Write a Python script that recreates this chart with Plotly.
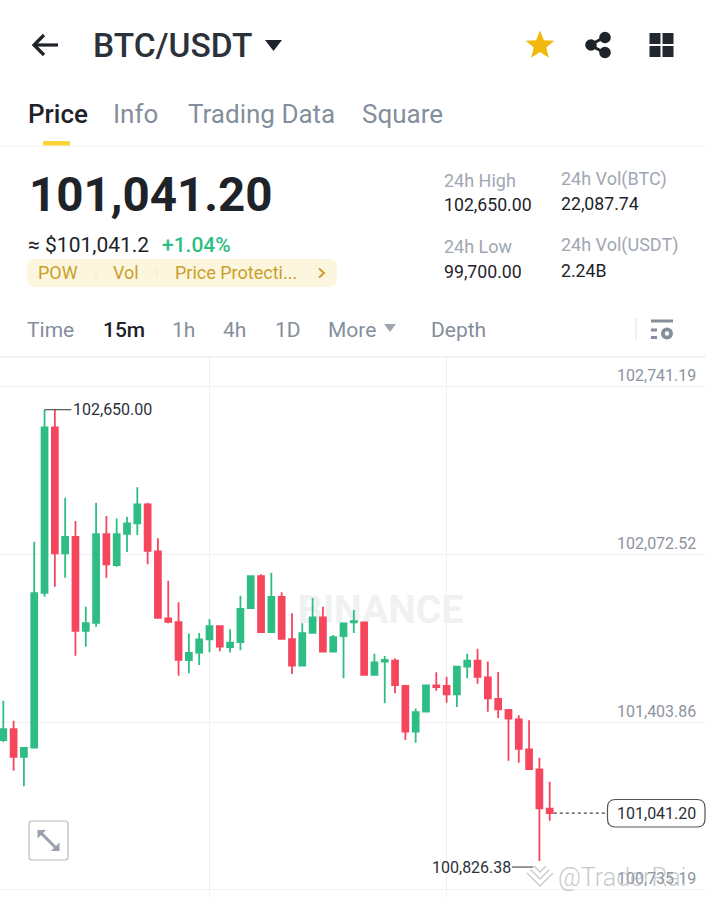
import math
import plotly.graph_objs as go

W = 706
H = 898

# 15m candles, left to right
opens = [101333, 101376, 101266, 101303, 101920, 102579, 102077, 102143, 101768, 101800,
         102154, 102030, 102155, 102197, 102272, 102085, 101818, 101803, 101652, 101681,
         101734, 101787, 101703, 101723, 101859, 101986, 101763, 101904, 101735, 101630,
         101760, 101822, 101685, 101747, 101802, 101802, 101593, 101646, 101649, 101549,
         101366, 101446, 101551, 101549, 101515, 101626, 101649, 101583, 101497, 101453,
         101415, 101295, 101216, 101059]
highs = [101489, 101410, 101301, 102123, 102650, 102650, 102299, 102206, 101864, 102279,
         102226, 102216, 102223, 102341, 102279, 102137, 101968, 101882, 101758, 101760,
         101815, 101790, 101775, 101908, 101990, 101994, 102000, 101922, 101838, 101798,
         101899, 101864, 101752, 101798, 101851, 101802, 101677, 101668, 101658, 101549,
         101459, 101551, 101603, 101585, 101625, 101677, 101697, 101646, 101604, 101453,
         101432, 101412, 101262, 101166]
lows = [101325, 101210, 101149, 101303, 101904, 101944, 101980, 101669, 101705, 101784,
        101980, 102024, 102083, 102150, 102034, 101820, 101798, 101589, 101599, 101632,
        101683, 101687, 101682, 101691, 101855, 101763, 101760, 101734, 101596, 101630,
        101760, 101685, 101683, 101579, 101760, 101593, 101592, 101479, 101519, 101333,
        101322, 101446, 101529, 101481, 101465, 101579, 101557, 101446, 101421, 101250,
        101242, 101217, 100851, 101011]
closes = [101376, 101266, 101301, 101918, 102579, 102077, 102143, 101768, 101799, 102154,
          102033, 102154, 102197, 102272, 102087, 101820, 101804, 101653, 101680, 101734,
          101787, 101705, 101721, 101856, 101986, 101763, 101904, 101736, 101630, 101759,
          101822, 101685, 101743, 101798, 101807, 101593, 101642, 101652, 101552, 101366,
          101444, 101551, 101544, 101515, 101625, 101649, 101585, 101499, 101455, 101418,
          101298, 101217, 101060, 101041.2]

y_tick_values = [102741.19, 102072.52, 101403.86, 100735.19]
y_tick_labels = ["102,741.19", "102,072.52", "101,403.86", "100,735.19"]
x_grid_candles = [20, 43]

high_price = 102650.00
high_candle = 4
low_price = 100826.38
low_candle = 52
last_price = 101041.20

tabs = ["Price", "Info", "Trading Data", "Square"]
intervals = ["Time", "15m", "1h", "4h", "1D", "More", "Depth"]

DARK = "#1E2329"
GREY = "#848E9C"
LIGHT = "#A0A7B2"
GREEN = "#2EBD85"
RED = "#F6465D"
GOLD = "#C99F2A"
FONT = "Roboto"


def px(x):
    return x / W


def py(y):
    return 1 - y / H


def path(points, close=True):
    s = "M " + " L ".join(f"{px(x):.5f},{py(y):.5f}" for x, y in points)
    return s + " Z" if close else s


def rounded(x0, y0, x1, y1, r):
    c = lambda x, y: f"{px(x):.5f},{py(y):.5f}"
    return (f"M {c(x0 + r, y0)} L {c(x1 - r, y0)} Q {c(x1, y0)} {c(x1, y0 + r)} "
            f"L {c(x1, y1 - r)} Q {c(x1, y1)} {c(x1 - r, y1)} L {c(x0 + r, y1)} "
            f"Q {c(x0, y1)} {c(x0, y1 - r)} L {c(x0, y0 + r)} Q {c(x0, y0)} {c(x0 + r, y0)} Z")


shapes = []
annotations = []


def fill(d, color, layer="above"):
    shapes.append(dict(type="path", path=d, xref="paper", yref="paper", fillcolor=color,
                       line=dict(width=0), layer=layer))


def stroke(d, color, width):
    shapes.append(dict(type="path", path=d, xref="paper", yref="paper",
                       line=dict(color=color, width=width)))


def circle(cx, cy, r, color):
    shapes.append(dict(type="circle", xref="paper", yref="paper", x0=px(cx - r), x1=px(cx + r),
                       y0=py(cy + r), y1=py(cy - r), fillcolor=color, line=dict(width=0)))


def text(x, y, s, size, color=DARK, weight=400, anchor="left"):
    annotations.append(dict(x=px(x - 1.5), y=py(y), xref="paper", yref="paper", text=s, showarrow=False,
                            xanchor=anchor, yanchor="middle", borderpad=0,
                            font=dict(family=FONT, size=size, color=color, weight=weight)))


# header
stroke(path([(34, 45), (58, 45)], False), DARK, 3.2)
stroke(path([(44, 35), (34, 45), (44, 55)], False), DARK, 3.2)
text(93, 46, "BTC/USDT", 33.5, "#2B3139", 500)
fill(path([(265, 40), (282, 40), (273.5, 51)]), DARK)
star = []
for k in range(10):
    r = 15 if k % 2 == 0 else 6.6
    a = -math.pi / 2 + k * math.pi / 5
    star.append((540 + r * math.cos(a), 45.5 + r * math.sin(a)))
fill(path(star), "#F0B90B")
stroke(path([(605, 37), (590, 45), (605, 53)], False), DARK, 3)
circle(605, 37.5, 5.8, DARK)
circle(591, 45, 5.8, DARK)
circle(605, 52.5, 5.8, DARK)
for x0, y0 in [(649.5, 33), (662.5, 33), (649.5, 46), (662.5, 46)]:
    fill(path([(x0, y0), (x0 + 11, y0), (x0 + 11, y0 + 11), (x0, y0 + 11)]), "#23282E")

# tabs
for label, x, c, w in zip(tabs, [28, 113, 188, 362], [DARK, GREY, GREY, GREY], [500, 400, 400, 400]):
    text(x, 114, label, 26, c, w)
fill(path([(43, 141), (70, 141), (70, 146), (43, 146)]), "#FCD535")
fill(path([(0, 145.5), (W, 145.5), (W, 147), (0, 147)]), "#F5F5F5")

# price block
text(29, 195, "101,041.20", 47.5, DARK, 700)
text(28, 245, "≈ $101,041.2", 21, DARK)
text(162, 245, "+1.04%", 21, GREEN, 500)
fill(rounded(27, 259, 337, 287, 8), "#FDF6DF")
text(38, 273, "POW", 18, GOLD)
text(113, 273, "Vol", 18, GOLD)
text(175, 273, "Price Protecti...", 18, GOLD)
stroke(path([(96, 269), (96, 277)], False), "#EFE6C6", 1)
stroke(path([(157, 269), (157, 277)], False), "#EFE6C6", 1)
stroke(path([(319, 268.5), (324, 273), (319, 277.5)], False), GOLD, 2)

text(444, 180, "24h High", 18, LIGHT)
text(444, 205, "102,650.00", 17.7, DARK)
text(561, 179, "24h Vol(BTC)", 18, LIGHT)
text(561, 204, "22,087.74", 17.7, DARK)
text(444, 246, "24h Low", 18, LIGHT)
text(444, 272, "99,700.00", 17.7, DARK)
text(561, 245, "24h Vol(USDT)", 18, LIGHT)
text(561, 271, "2.24B", 17.7, DARK)

# interval bar
for label, x in zip(intervals, [27, 103, 172, 223, 275, 328, 431]):
    if label == "15m":
        text(x, 330, label, 21, DARK, 500)
    else:
        text(x, 330, label, 21, GREY)
fill(path([(384, 324), (396, 324), (390, 332)]), LIGHT)
stroke(path([(636, 318), (636, 340)], False), "#E6E8EA", 1.2)
stroke(path([(651, 321), (673, 321)], False), GREY, 3)
stroke(path([(651, 330), (657, 330)], False), GREY, 3)
stroke(path([(651, 337.5), (657, 337.5)], False), GREY, 3)
circle(667, 333.5, 6, GREY)
circle(667, 333.5, 2.2, "#FFFFFF")
fill(path([(0, 356), (W, 356), (W, 357.5), (0, 357.5)]), "#EEF0F2")

# chart overlays
for value, label in zip(y_tick_values, y_tick_labels):
    annotations.append(dict(x=px(696.5), xref="paper", y=value, yref="y", yshift=11, text=label,
                            showarrow=False, xanchor="right", yanchor="middle", borderpad=0,
                            font=dict(family=FONT, size=16, color="#8C939E")))

shapes.append(dict(type="line", x0=high_candle, x1=high_candle + 2.6, y0=high_price, y1=high_price,
                   line=dict(color="#555555", width=1.2)))
annotations.append(dict(x=px(71.5), xref="paper", y=high_price, yref="y", text="102,650.00", showarrow=False,
                        xanchor="left", yanchor="middle", borderpad=0,
                        font=dict(family=FONT, size=16, color="#2B3139")))
shapes.append(dict(type="line", x0=low_candle - 2.65, x1=low_candle - 0.6, y0=low_price, y1=low_price,
                   line=dict(color="#555555", width=1.2)))
annotations.append(dict(x=px(512), xref="paper", y=low_price, yref="y", text="100,826.38", showarrow=False,
                        xanchor="right", yanchor="middle", borderpad=0,
                        font=dict(family=FONT, size=16, color="#2B3139")))

shapes.append(dict(type="line", x0=53.4, x1=58.6, y0=last_price, y1=last_price,
                   line=dict(color="#444444", width=1.2, dash="3px,3px")))
shapes.append(dict(type="path", path=rounded(607.5, 799.5, 705, 827, 8), xref="paper", yref="paper",
                   fillcolor="#FFFFFF", line=dict(color="#555555", width=1.2)))
annotations.append(dict(x=px(656.5), xref="paper", y=last_price, yref="y", text="101,041.20", showarrow=False,
                        xanchor="center", yanchor="middle", borderpad=0,
                        font=dict(family=FONT, size=16, color="#2B3139")))

# expand button
shapes.append(dict(type="path", path=rounded(29, 821, 68, 860, 3), xref="paper", yref="paper",
                   fillcolor="#FFFFFF", line=dict(color="#B7BDC6", width=1.2)))
stroke(path([(41, 833), (56, 848)], False), "#9AA1AD", 3)
fill(path([(37.5, 830), (46, 830), (37.5, 838.5)]), "#9AA1AD")
fill(path([(59.5, 851), (51, 851), (59.5, 842.5)]), "#9AA1AD")

# watermarks
shapes.append(dict(type="rect", x0=px(295), x1=px(466), y0=py(624), y1=py(590), xref="paper", yref="paper",
                   layer="below", line=dict(width=0), fillcolor="rgba(0,0,0,0)",
                   label=dict(text="BINANCE", textposition="middle center",
                              font=dict(family=FONT, size=39, color="#F0F1F3", weight=700))))
for offset in [0, 7, 14]:
    half = 6 + offset * 0.5
    stroke(path([(540 - half, 866 + offset + 6 - half), (540, 866 + offset + 6),
                 (540 + half, 866 + offset + 6 - half)], False), "#C9CCD0", 1.5)
text(558, 877, "@TraderRai", 25, "rgba(165,170,175,0.65)", 300)

fig = go.Figure()
fig.add_trace(go.Candlestick(
    x=list(range(len(opens))),
    open=opens,
    high=highs,
    low=lows,
    close=closes,
    whiskerwidth=0,
    increasing=dict(line=dict(color=GREEN, width=1.8), fillcolor=GREEN),
    decreasing=dict(line=dict(color=RED, width=1.8), fillcolor=RED),
    showlegend=False,
))

fig.update_layout(
    width=W,
    height=H,
    margin=dict(l=0, r=0, t=0, b=0),
    paper_bgcolor="white",
    plot_bgcolor="white",
    boxgap=0.18,
    shapes=shapes,
    annotations=annotations,
    xaxis=dict(range=[-0.32, 68.16], tickvals=x_grid_candles, showticklabels=False, showgrid=True,
               gridcolor="#EEF0F2", gridwidth=1.2, zeroline=False, rangeslider=dict(visible=False),
               showline=False, ticks=""),
    yaxis=dict(domain=[0, 541 / 898], range=[100703, 102860], tickvals=y_tick_values, showticklabels=False,
               showgrid=True, gridcolor="#EEF0F2", gridwidth=1.2, zeroline=False, showline=False, ticks=""),
)

fig.write_html("out.html", config={"displayModeBar": False},
               post_script="document.body.style.margin='0';document.body.style.overflow='hidden';")
